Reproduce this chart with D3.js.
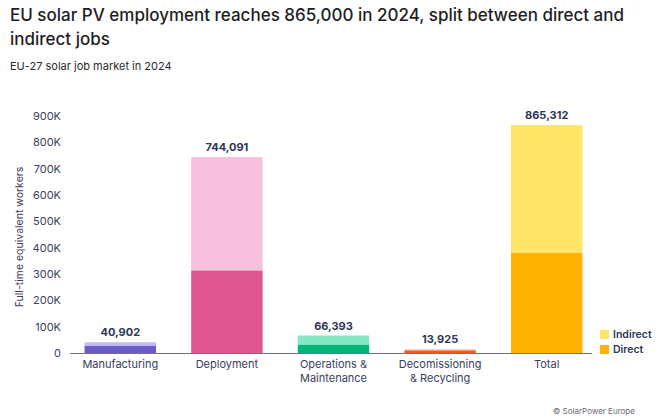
<!DOCTYPE html>
<html>
<head>
<meta charset="utf-8">
<script src="https://cdn.jsdelivr.net/npm/d3@7"></script>
<style>
  body { margin: 0; background: #fff; }
  svg { font-family: Inter, "Open Sans", sans-serif; }
</style>
</head>
<body>
<svg id="chart" width="668" height="420"></svg>
<script>
const categories = [["Manufacturing"], ["Deployment"], ["Operations &", "Maintenance"], ["Decomissioning", "& Recycling"], ["Total"]];
const directJobs = [27000, 313000, 31000, 9500, 380500];
const totalJobs = [40902, 744091, 66393, 13925, 865312];
const yTicks = [0, 100000, 200000, 300000, 400000, 500000, 600000, 700000, 800000, 900000];
const directColors = ["#6b5bc6", "#e0568f", "#00b87a", "#f05a1e", "#ffb300"];
const indirectColors = ["#c3bdf5", "#f8c1dd", "#84e8c3", "#f9b8a0", "#ffe566"];
const legendItems = [["Indirect", "#ffe566"], ["Direct", "#ffb300"]];

const svg = d3.select("#chart");
const textCol = "#3a4060";

svg.append("text").attr("x", 10).attr("y", 21)
  .attr("font-size", 17).attr("font-weight", 500).attr("fill", "#1e1e24")
  .text("EU solar PV employment reaches 865,000 in 2024, split between direct and");
svg.append("text").attr("x", 10).attr("y", 45)
  .attr("font-size", 17).attr("font-weight", 500).attr("fill", "#1e1e24")
  .text("indirect jobs");
svg.append("text").attr("x", 10).attr("y", 70)
  .attr("font-size", 11).attr("fill", "#2a2a30")
  .text("EU-27 solar job market in 2024");

const keys = categories.map((d) => d.join(" "));
const x = d3.scaleBand().domain(keys).range([67, 600]).paddingInner(0.33).paddingOuter(0.165);
const y = d3.scaleLinear().domain([0, 900000]).range([353, 116]);

// y axis labels
const yAxis = d3.axisLeft(y).tickValues(yTicks)
  .tickFormat((d) => d === 0 ? "0" : d / 1000 + "K").tickSize(0).tickPadding(0);
svg.append("g").attr("transform", "translate(61,0)").call(yAxis)
  .call((g) => {
    g.select(".domain").remove();
    g.selectAll("text").attr("font-size", 11).attr("fill", textCol)
      .attr("font-family", "Inter, sans-serif");
  });

svg.append("text")
  .attr("transform", "translate(23,237) rotate(-90)")
  .attr("text-anchor", "middle").attr("font-size", 10.5).attr("fill", textCol)
  .text("Full-time equivalent workers");

// bars
const bars = svg.append("g");
keys.forEach((k, i) => {
  bars.append("rect").attr("x", x(k)).attr("width", x.bandwidth())
    .attr("y", y(totalJobs[i])).attr("height", y(directJobs[i]) - y(totalJobs[i]))
    .attr("fill", indirectColors[i]);
  bars.append("rect").attr("x", x(k)).attr("width", x.bandwidth())
    .attr("y", y(directJobs[i])).attr("height", y(0) - y(directJobs[i]))
    .attr("fill", directColors[i]);
  bars.append("text").attr("x", x(k) + x.bandwidth() / 2).attr("y", y(totalJobs[i]) - 6)
    .attr("text-anchor", "middle").attr("font-size", 11).attr("font-weight", 700)
    .attr("fill", "#2e3656").text(d3.format(",")(totalJobs[i]));
});

// x axis
svg.append("line").attr("x1", 70).attr("x2", 592).attr("y1", y(0) + 0.5).attr("y2", y(0) + 0.5)
  .attr("stroke", "#6e7180").attr("stroke-width", 1.2);
categories.forEach((lines, i) => {
  const t = svg.append("text").attr("x", x(keys[i]) + x.bandwidth() / 2).attr("y", 368)
    .attr("text-anchor", "middle").attr("font-size", 11).attr("fill", textCol);
  lines.forEach((l, j) => t.append("tspan").attr("x", x(keys[i]) + x.bandwidth() / 2)
    .attr("dy", j === 0 ? 0 : 14).text(l));
});

// legend
legendItems.forEach(([label, col], i) => {
  svg.append("rect").attr("x", 600).attr("y", 330 + i * 15).attr("width", 9).attr("height", 9).attr("fill", col);
  svg.append("text").attr("x", 613).attr("y", 338 + i * 15).attr("font-size", 10.5)
    .attr("font-weight", 600).attr("fill", "#2e3656").text(label);
});

svg.append("text").attr("x", 553).attr("y", 414).attr("font-size", 8).attr("fill", "#6a6a72")
  .text("© SolarPower Europe");
</script>
</body>
</html>
